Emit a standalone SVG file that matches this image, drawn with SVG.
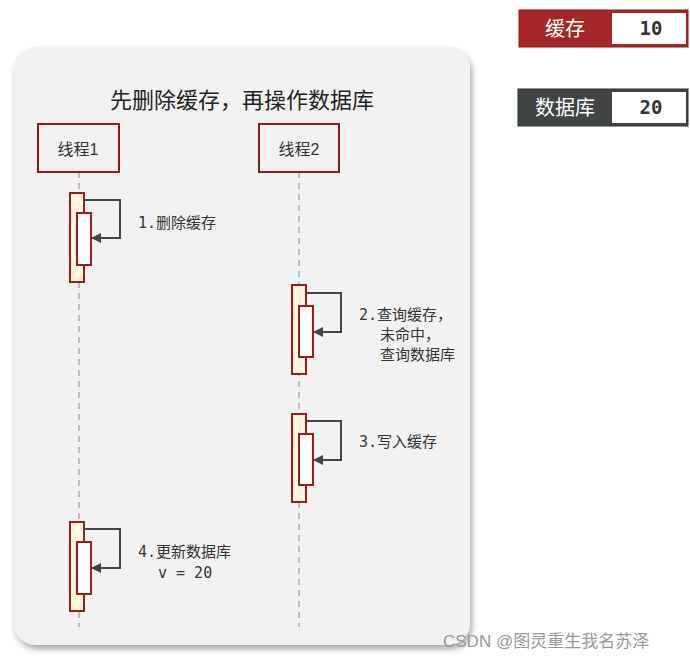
<svg xmlns="http://www.w3.org/2000/svg" width="690" height="661" viewBox="0 0 690 661">
<defs>
<style>
.cn{font-family:"Liberation Sans","Noto Sans CJK SC",sans-serif}
.mono{font-family:"DejaVu Sans Mono","Noto Sans CJK SC",monospace;font-size:15px;fill:#333}
.head{fill:#f2f2f2;stroke:#8b1a1a;stroke-width:2}
.life{stroke:#aaa;stroke-width:1.5;stroke-dasharray:6 5}
.act{fill:#fff8dc;stroke:#a01c1c;stroke-width:2}
.inner{fill:#fff;stroke:#a01c1c;stroke-width:2}
.loop{fill:none;stroke:#444;stroke-width:2;marker-end:url(#ah)}
</style>
<marker id="ah" viewBox="0 0 10 10" refX="9" refY="5" markerWidth="5" markerHeight="5" orient="auto"><path d="M0,0L10,5L0,10z" fill="#444"/></marker>
<filter id="sh" x="-5%" y="-5%" width="112%" height="112%"><feDropShadow dx="2" dy="4" stdDeviation="3" flood-color="#000" flood-opacity="0.35"/></filter>
</defs>
<rect width="690" height="661" fill="#fff"/>
<g id="panel">
<rect x="14" y="47" width="456" height="598" rx="22" fill="#f2f2f2" filter="url(#sh)"/>
<text x="242" y="108" class="cn" font-size="22" text-anchor="middle" fill="#222">先删除缓存，再操作数据库</text>
</g>
<g id="legend-cache">
<rect x="519" y="10" width="169" height="37" fill="#a52626" stroke="#8b1a1a"/>
<rect x="612" y="13" width="74" height="31" fill="#fff"/>
<text x="565" y="36" class="cn" font-size="20" text-anchor="middle" fill="#fff">缓存</text>
<text x="651" y="35" font-family="DejaVu Sans Mono,monospace" font-weight="bold" font-size="19" text-anchor="middle" fill="#333">10</text>
</g>
<g id="legend-db">
<rect x="518" y="89" width="170" height="37" fill="#3f4545" stroke="#333"/>
<rect x="612" y="92" width="74" height="31" fill="#fff"/>
<text x="565" y="115" class="cn" font-size="20" text-anchor="middle" fill="#fff">数据库</text>
<text x="651" y="114" font-family="DejaVu Sans Mono,monospace" font-weight="bold" font-size="19" text-anchor="middle" fill="#333">20</text>
</g>
<g id="connectors">
<line class="life" x1="79" y1="172" x2="79" y2="627"/>
<line class="life" x1="299" y1="172" x2="299" y2="627"/>
</g>
<g id="thread1">
<rect class="head" x="38" y="124" width="81" height="48"/>
<text x="78" y="155" class="cn" font-size="16" text-anchor="middle" fill="#333">线程1</text>
</g>
<g id="thread2">
<rect class="head" x="259" y="124" width="80" height="48"/>
<text x="299" y="155" class="cn" font-size="16" text-anchor="middle" fill="#333">线程2</text>
</g>
<g id="step1">
<rect class="act" x="70" y="193" width="14" height="89"/>
<rect class="inner" x="77" y="213" width="14" height="52"/>
<path class="loop" d="M84,200H120V238H92"/>
<text x="138" y="228" class="mono">1.删除缓存</text>
</g>
<g id="step2">
<rect class="act" x="292" y="285" width="14" height="89"/>
<rect class="inner" x="299" y="306" width="14" height="51"/>
<path class="loop" d="M306,293H341V332H314"/>
<text x="359" y="320" class="mono">2.查询缓存，</text>
<text x="380" y="340" class="mono">未命中，</text>
<text x="380" y="360" class="mono">查询数据库</text>
</g>
<g id="step3">
<rect class="act" x="292" y="414" width="14" height="88"/>
<rect class="inner" x="299" y="434" width="14" height="51"/>
<path class="loop" d="M306,421H341V460H314"/>
<text x="359" y="447" class="mono">3.写入缓存</text>
</g>
<g id="step4">
<rect class="act" x="70" y="522" width="14" height="89"/>
<rect class="inner" x="77" y="542" width="14" height="52"/>
<path class="loop" d="M84,529H120V568H92"/>
<text x="138" y="557" class="mono">4.更新数据库</text>
<text x="158" y="578" class="mono">v = 20</text>
</g>
<text x="443" y="647" class="cn" font-size="17" fill="#999">CSDN @图灵重生我名苏泽</text>
</svg>
